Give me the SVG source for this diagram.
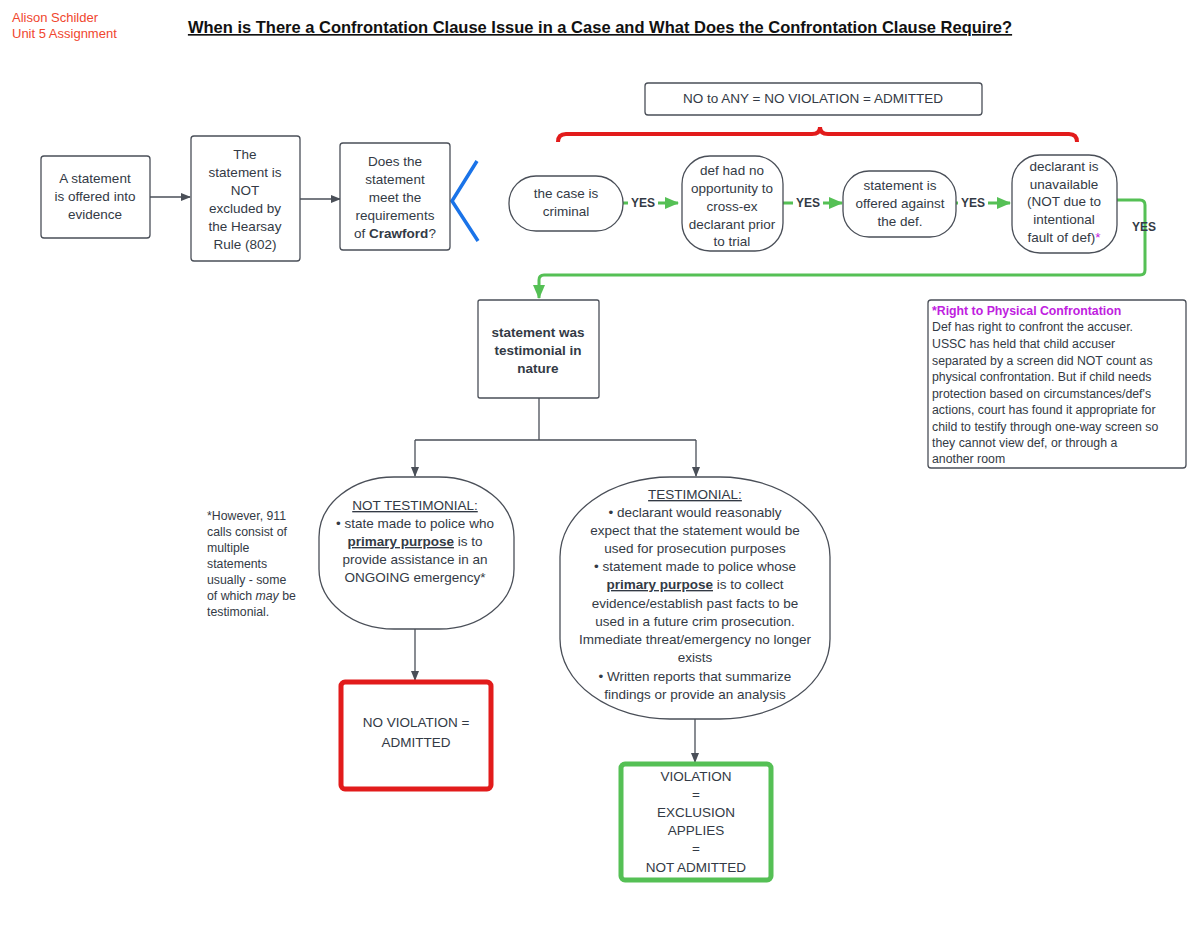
<svg xmlns="http://www.w3.org/2000/svg" width="1200" height="927" viewBox="0 0 1200 927">
<defs>
<style>
text{font-family:"Liberation Sans",Arial,sans-serif;fill:#333a45;font-size:13.5px}
.c{text-anchor:middle}
.b{font-weight:bold}
.box{fill:#fff;stroke:#4a4f58;stroke-width:1.3}
.ln{fill:none;stroke:#4a4f58;stroke-width:1.3}
.g{fill:none;stroke:#55c055;stroke-width:3}
.y{font-size:12px;font-weight:bold}
.s{font-size:12.3px}
</style>
<marker id="a" markerWidth="10" markerHeight="8" refX="9" refY="4" orient="auto" markerUnits="userSpaceOnUse"><path d="M0,0L10,4L0,8z" fill="#4a4f58"/></marker>
<marker id="ga" markerWidth="14" markerHeight="12" refX="13" refY="6" orient="auto" markerUnits="userSpaceOnUse"><path d="M0,0L14,6L0,12z" fill="#55c055"/></marker>
</defs>
<rect width="1200" height="927" fill="#fff"/>
<text x="12" y="22" style="fill:#f0462e;font-size:13px">Alison Schilder</text>
<text x="12" y="38" style="fill:#f0462e;font-size:13px">Unit 5 Assignment</text>
<text x="600" y="33" class="c b" style="font-size:16.5px;text-decoration:underline;fill:#111">When is There a Confrontation Clause Issue in a Case and What Does the Confrontation Clause Require?</text>

<g id="connectors">
<path class="ln" d="M150,197H190" marker-end="url(#a)"/>
<path class="ln" d="M300,199H340" marker-end="url(#a)"/>
<path d="M477,161L452,201L478,241" fill="none" stroke="#1a73e8" stroke-width="3.5"/>
<path d="M558,142Q558,134 566,134L812,134Q820,134 820,127Q820,134 828,134L1069,134Q1077,134 1077,142" fill="none" stroke="#e21b1b" stroke-width="4"/>
<path class="g" d="M623,203H678" marker-end="url(#ga)"/>
<path class="g" d="M783,203H842" marker-end="url(#ga)"/>
<path class="g" d="M956,203H1010" marker-end="url(#ga)"/>
<path class="g" d="M1117,200H1140Q1145,200 1145,205V270Q1145,275 1140,275H544Q539,275 539,280V298" marker-end="url(#ga)"/>
<rect x="628" y="196" width="30" height="13" fill="#fff"/><text x="643" y="207" class="c y">YES</text>
<rect x="793" y="196" width="30" height="13" fill="#fff"/><text x="808" y="207" class="c y">YES</text>
<rect x="958" y="196" width="30" height="13" fill="#fff"/><text x="973" y="207" class="c y">YES</text>
<text x="1144" y="231" class="c y">YES</text>
<path class="ln" d="M539,398V440M415,440H696"/>
<path class="ln" d="M415,440V476" marker-end="url(#a)"/>
<path class="ln" d="M696,440V476" marker-end="url(#a)"/>
<path class="ln" d="M415,629V680" marker-end="url(#a)"/>
<path class="ln" d="M695,719V762" marker-end="url(#a)"/>
</g>

<g id="n1"><rect class="box" x="41" y="156" width="109" height="82" rx="3"/>
<text class="c" x="95" y="183">A statement</text><text class="c" x="95" y="201">is offered into</text><text class="c" x="95" y="219">evidence</text></g>
<g id="n2"><rect class="box" x="191" y="136" width="109" height="125" rx="3"/>
<text class="c" x="245" y="159">The</text><text class="c" x="245" y="177">statement is</text><text class="c" x="245" y="195">NOT</text><text class="c" x="245" y="213">excluded by</text><text class="c" x="245" y="231">the Hearsay</text><text class="c" x="245" y="249">Rule (802)</text></g>
<g id="n3"><rect class="box" x="340" y="143" width="110" height="107" rx="3"/>
<text class="c" x="395" y="166">Does the</text><text class="c" x="395" y="184">statement</text><text class="c" x="395" y="202">meet the</text><text class="c" x="395" y="220">requirements</text><text class="c" x="395" y="238">of <tspan class="b">Crawford</tspan>?</text></g>
<g id="nany"><rect class="box" x="645" y="83" width="337" height="32" rx="3"/>
<text class="c" x="813" y="103">NO to ANY = NO VIOLATION = ADMITTED</text></g>
<g id="c1"><rect class="box" x="509" y="176" width="114" height="55" rx="27"/>
<text class="c" x="566" y="198">the case is</text><text class="c" x="566" y="216">criminal</text></g>
<g id="c2"><rect class="box" x="682" y="156" width="101" height="95" rx="28"/>
<text class="c" x="732" y="175">def had no</text><text class="c" x="732" y="193">opportunity to</text><text class="c" x="732" y="211">cross-ex</text><text class="c" x="732" y="229">declarant prior</text><text class="c" x="732" y="246">to trial</text></g>
<g id="c3"><rect class="box" x="843" y="171" width="113" height="66" rx="26"/>
<text class="c" x="900" y="190">statement is</text><text class="c" x="900" y="208">offered against</text><text class="c" x="900" y="226">the def.</text></g>
<g id="c4"><rect class="box" x="1012" y="155" width="105" height="98" rx="28"/>
<text class="c" x="1064" y="171">declarant is</text><text class="c" x="1064" y="189">unavailable</text><text class="c" x="1064" y="206">(NOT due to</text><text class="c" x="1064" y="224">intentional</text><text class="c" x="1064" y="242">fault of def)<tspan style="fill:#c020e0">*</tspan></text></g>
<g id="note"><rect class="box" x="928" y="300" width="258" height="168" rx="3"/>
<text x="932" y="315" class="s b" style="fill:#c020e0">*Right to Physical Confrontation</text>
<text x="932" y="331" class="s">Def has right to confront the accuser.</text>
<text x="932" y="348" class="s">USSC has held that child accuser</text>
<text x="932" y="365" class="s">separated by a screen did NOT count as</text>
<text x="932" y="381" class="s">physical confrontation. But if child needs</text>
<text x="932" y="398" class="s">protection based on circumstances/def's</text>
<text x="932" y="414" class="s">actions, court has found it appropriate for</text>
<text x="932" y="431" class="s">child to testify through one-way screen so</text>
<text x="932" y="447" class="s">they cannot view def, or through a</text>
<text x="932" y="463" class="s">another room</text></g>
<g id="st"><rect class="box" x="478" y="300" width="121" height="98" rx="2"/>
<text class="c b" x="538" y="337">statement was</text><text class="c b" x="538" y="355">testimonial in</text><text class="c b" x="538" y="373">nature</text></g>
<g id="foot">
<text x="207" y="520" class="s">*However, 911</text><text x="207" y="536" class="s">calls consist of</text><text x="207" y="552" class="s">multiple</text><text x="207" y="568" class="s">statements</text><text x="207" y="584" class="s">usually - some</text><text x="207" y="600" class="s">of which <tspan font-style="italic">may</tspan> be</text><text x="207" y="616" class="s">testimonial.</text></g>
<g id="nt"><rect class="box" x="319" y="477" width="195" height="152" rx="75" ry="60"/>
<text class="c" x="415" y="510" text-decoration="underline">NOT TESTIMONIAL:</text>
<text class="c" x="415" y="528">• state made to police who</text>
<text class="c" x="415" y="546"><tspan class="b" text-decoration="underline">primary purpose</tspan> is to</text>
<text class="c" x="415" y="564">provide assistance in an</text>
<text class="c" x="415" y="582">ONGOING emergency*</text></g>
<g id="nv"><rect x="341" y="682" width="150" height="107" rx="4" fill="#fff" stroke="#e21b1b" stroke-width="5"/>
<text class="c" x="416" y="727">NO VIOLATION =</text><text class="c" x="416" y="747">ADMITTED</text></g>
<g id="t"><rect class="box" x="560" y="477" width="270" height="242" rx="110" ry="80"/>
<text class="c" x="695" y="499" text-decoration="underline">TESTIMONIAL:</text>
<text class="c" x="695" y="517">• declarant would reasonably</text>
<text class="c" x="695" y="535">expect that the statement would be</text>
<text class="c" x="695" y="553">used for prosecution purposes</text>
<text class="c" x="695" y="571">• statement made to police whose</text>
<text class="c" x="695" y="589"><tspan class="b" text-decoration="underline">primary purpose</tspan> is to collect</text>
<text class="c" x="695" y="608">evidence/establish past facts to be</text>
<text class="c" x="695" y="626">used in a future crim prosecution.</text>
<text class="c" x="695" y="644">Immediate threat/emergency no longer</text>
<text class="c" x="695" y="662">exists</text>
<text class="c" x="695" y="681">• Written reports that summarize</text>
<text class="c" x="695" y="699">findings or provide an analysis</text></g>
<g id="v"><rect x="621" y="764" width="150" height="116" rx="4" fill="#fff" stroke="#55c055" stroke-width="5"/>
<text class="c" x="696" y="781">VIOLATION</text><text class="c" x="696" y="799">=</text><text class="c" x="696" y="817">EXCLUSION</text><text class="c" x="696" y="835">APPLIES</text><text class="c" x="696" y="853">=</text><text class="c" x="696" y="872">NOT ADMITTED</text></g>
</svg>
